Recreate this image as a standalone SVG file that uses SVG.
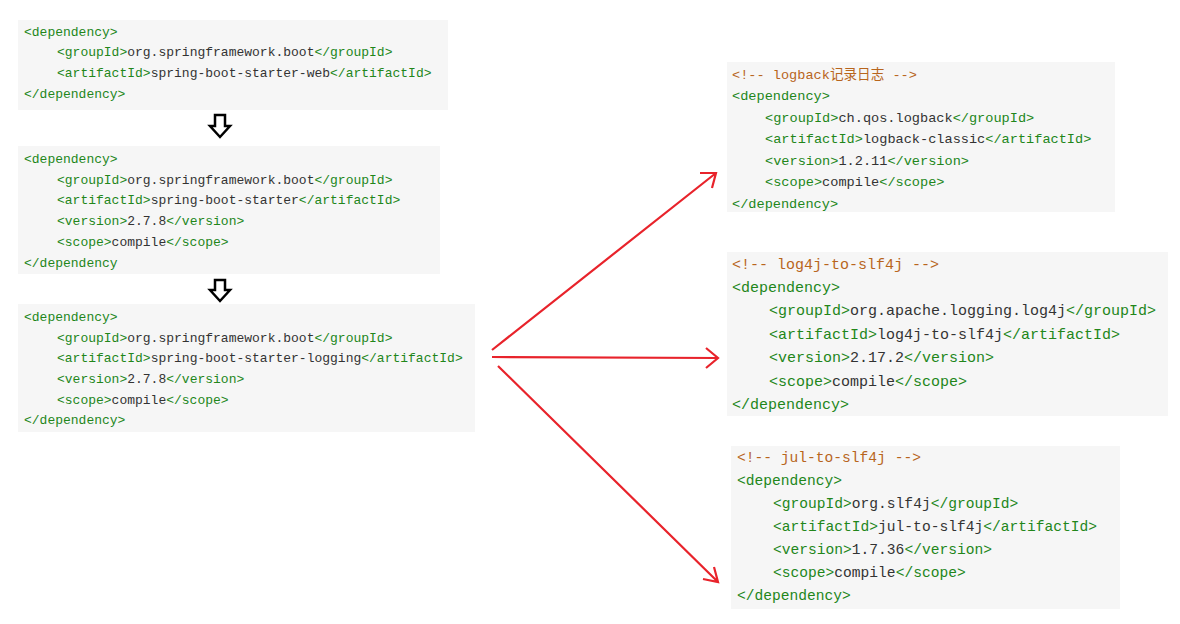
<svg xmlns="http://www.w3.org/2000/svg" width="1180" height="624" viewBox="0 0 1180 624">
<style>
.bg{fill:#f6f6f6}
text{font-family:"Liberation Mono","DejaVu Sans Mono",monospace;fill:#333;white-space:pre}
.t{fill:#22861a}
.c{fill:#b8651c}
.s13{font-size:13px}.s135{font-size:13.6px}.s15{font-size:15px}.s146{font-size:14.6px}
.red{stroke:#e8232b;stroke-width:2.2;fill:none}
</style>
<rect width="1180" height="624" fill="#fff"/>
<g id="box1" class="s13">
<rect class="bg" x="18" y="20" width="430" height="90"/>
<text x="24" y="36"><tspan class="t">&lt;dependency&gt;</tspan></text>
<text x="57" y="56"><tspan class="t">&lt;groupId&gt;</tspan>org.springframework.boot<tspan class="t">&lt;/groupId&gt;</tspan></text>
<text x="57" y="77"><tspan class="t">&lt;artifactId&gt;</tspan>spring-boot-starter-web<tspan class="t">&lt;/artifactId&gt;</tspan></text>
<text x="24" y="98"><tspan class="t">&lt;/dependency&gt;</tspan></text>
</g>
<g id="box2" class="s13">
<rect class="bg" x="18" y="146" width="422" height="128"/>
<text x="24" y="163"><tspan class="t">&lt;dependency&gt;</tspan></text>
<text x="57" y="184"><tspan class="t">&lt;groupId&gt;</tspan>org.springframework.boot<tspan class="t">&lt;/groupId&gt;</tspan></text>
<text x="57" y="204"><tspan class="t">&lt;artifactId&gt;</tspan>spring-boot-starter<tspan class="t">&lt;/artifactId&gt;</tspan></text>
<text x="57" y="225"><tspan class="t">&lt;version&gt;</tspan>2.7.8<tspan class="t">&lt;/version&gt;</tspan></text>
<text x="57" y="246"><tspan class="t">&lt;scope&gt;</tspan>compile<tspan class="t">&lt;/scope&gt;</tspan></text>
<text x="24" y="267"><tspan class="t">&lt;/dependency</tspan></text>
</g>
<g id="box3" class="s13">
<rect class="bg" x="18" y="304" width="457" height="128"/>
<text x="24" y="321"><tspan class="t">&lt;dependency&gt;</tspan></text>
<text x="57" y="342"><tspan class="t">&lt;groupId&gt;</tspan>org.springframework.boot<tspan class="t">&lt;/groupId&gt;</tspan></text>
<text x="57" y="362"><tspan class="t">&lt;artifactId&gt;</tspan>spring-boot-starter-logging<tspan class="t">&lt;/artifactId&gt;</tspan></text>
<text x="57" y="383"><tspan class="t">&lt;version&gt;</tspan>2.7.8<tspan class="t">&lt;/version&gt;</tspan></text>
<text x="57" y="404"><tspan class="t">&lt;scope&gt;</tspan>compile<tspan class="t">&lt;/scope&gt;</tspan></text>
<text x="24" y="424"><tspan class="t">&lt;/dependency&gt;</tspan></text>
</g>
<g id="logback" class="s135">
<rect class="bg" x="727" y="62" width="388" height="150"/>
<text x="732" y="79"><tspan class="c">&lt;!-- logback</tspan><tspan class="c" font-family="'Noto Sans CJK SC',sans-serif">记录日志</tspan><tspan class="c"> --&gt;</tspan></text>
<text x="732" y="100"><tspan class="t">&lt;dependency&gt;</tspan></text>
<text x="765" y="122"><tspan class="t">&lt;groupId&gt;</tspan>ch.qos.logback<tspan class="t">&lt;/groupId&gt;</tspan></text>
<text x="765" y="143"><tspan class="t">&lt;artifactId&gt;</tspan>logback-classic<tspan class="t">&lt;/artifactId&gt;</tspan></text>
<text x="765" y="165"><tspan class="t">&lt;version&gt;</tspan>1.2.11<tspan class="t">&lt;/version&gt;</tspan></text>
<text x="765" y="186"><tspan class="t">&lt;scope&gt;</tspan>compile<tspan class="t">&lt;/scope&gt;</tspan></text>
<text x="732" y="208"><tspan class="t">&lt;/dependency&gt;</tspan></text>
</g>
<g id="log4j" class="s15">
<rect class="bg" x="727" y="252" width="441" height="164"/>
<text x="732" y="269"><tspan class="c">&lt;!-- log4j-to-slf4j --&gt;</tspan></text>
<text x="732" y="292"><tspan class="t">&lt;dependency&gt;</tspan></text>
<text x="769" y="315"><tspan class="t">&lt;groupId&gt;</tspan>org.apache.logging.log4j<tspan class="t">&lt;/groupId&gt;</tspan></text>
<text x="769" y="339"><tspan class="t">&lt;artifactId&gt;</tspan>log4j-to-slf4j<tspan class="t">&lt;/artifactId&gt;</tspan></text>
<text x="769" y="362"><tspan class="t">&lt;version&gt;</tspan>2.17.2<tspan class="t">&lt;/version&gt;</tspan></text>
<text x="769" y="386"><tspan class="t">&lt;scope&gt;</tspan>compile<tspan class="t">&lt;/scope&gt;</tspan></text>
<text x="732" y="409"><tspan class="t">&lt;/dependency&gt;</tspan></text>
</g>
<g id="jul" class="s146">
<rect class="bg" x="731" y="446" width="389" height="163"/>
<text x="737" y="462"><tspan class="c">&lt;!-- jul-to-slf4j --&gt;</tspan></text>
<text x="737" y="485"><tspan class="t">&lt;dependency&gt;</tspan></text>
<text x="773" y="508"><tspan class="t">&lt;groupId&gt;</tspan>org.slf4j<tspan class="t">&lt;/groupId&gt;</tspan></text>
<text x="773" y="531"><tspan class="t">&lt;artifactId&gt;</tspan>jul-to-slf4j<tspan class="t">&lt;/artifactId&gt;</tspan></text>
<text x="773" y="554"><tspan class="t">&lt;version&gt;</tspan>1.7.36<tspan class="t">&lt;/version&gt;</tspan></text>
<text x="773" y="577"><tspan class="t">&lt;scope&gt;</tspan>compile<tspan class="t">&lt;/scope&gt;</tspan></text>
<text x="737" y="600"><tspan class="t">&lt;/dependency&gt;</tspan></text>
</g>
<g id="connectors">
<path d="M215 115h10v11h5l-10 11l-10-11h5z" fill="#fff" stroke="#000" stroke-width="2.5" stroke-linejoin="miter"/>
<path d="M215 280h10v10h5l-10 11l-10-11h5z" fill="#fff" stroke="#000" stroke-width="2.5"/>
<path class="red" d="M492 350L716 173M700 173h16l-4 15"/>
<path class="red" d="M492 357L718 358M706 348l12 10l-12 10"/>
<path class="red" d="M498 366L718 582M714 567l4 15l-15-3"/>
</g>
</svg>
